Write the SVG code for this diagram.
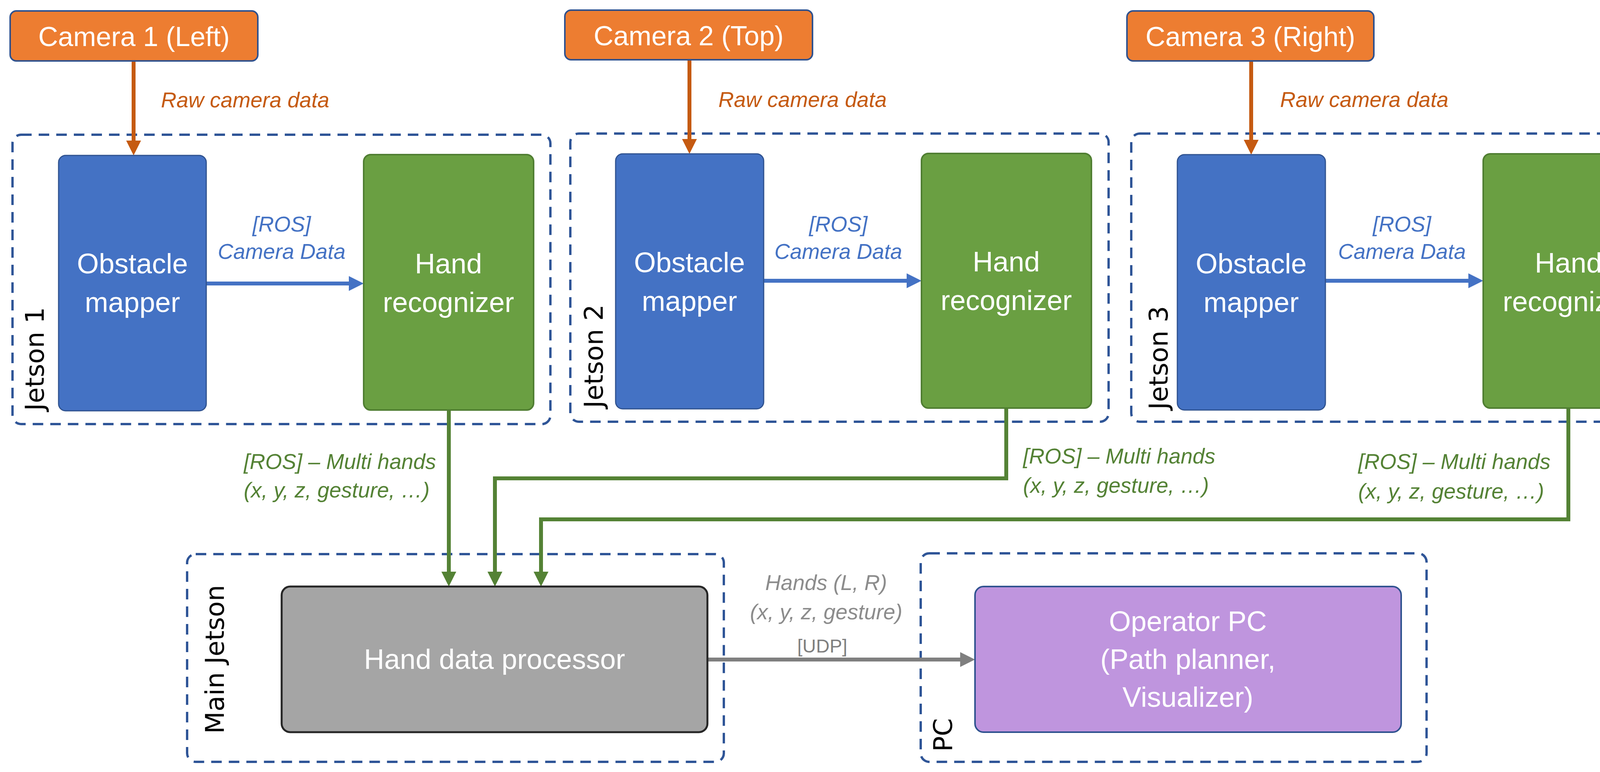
<svg xmlns="http://www.w3.org/2000/svg" width="4299" height="1977" viewBox="0 0 4299 1977">
<defs>
<style>
.grp{fill:none;stroke:#2F5597;stroke-width:6;stroke-dasharray:27 18}
.cam{fill:#ED7D31;stroke:#2F528F;stroke-width:4}
.obs{fill:#4472C4;stroke:#2F528F;stroke-width:3}
.hand{fill:#6A9F42;stroke:#507E32;stroke-width:4}
.proc{fill:#A5A5A5;stroke:#262626;stroke-width:5}
.op{fill:#BF95DE;stroke:#2F528F;stroke-width:4}
.nt{font-family:"Liberation Sans",Arial,sans-serif;font-size:72px;fill:#FFFFFF;text-anchor:middle}
.ct{font-family:"Liberation Sans",Arial,sans-serif;font-size:70px;fill:#FFFFFF;text-anchor:middle}
.gl{font-family:"DejaVu Sans",Verdana,sans-serif;font-size:66px;fill:#000000}
.lbl{font-family:"Liberation Sans",Arial,sans-serif;font-size:55px;font-style:italic}
.or{fill:#C55A11}
.bl{fill:#4472C4;text-anchor:middle}
.gr{fill:#548235}
.gy{fill:#8C8C8C;text-anchor:middle}
.udp{font-family:"Liberation Sans",Arial,sans-serif;font-size:48px;fill:#7F7F7F;text-anchor:middle}
.c-or{fill:none;stroke:#C55A11;stroke-width:10}
.c-bl{fill:none;stroke:#4472C4;stroke-width:10}
.c-gr{fill:none;stroke:#548235;stroke-width:10;stroke-linejoin:miter}
.c-gy{fill:none;stroke:#7F7F7F;stroke-width:10}
</style>
<marker id="aOr" viewBox="0 0 38 38" refX="22" refY="19" markerWidth="38" markerHeight="38" markerUnits="userSpaceOnUse" orient="auto"><path d="M0,0 L38,19 L0,38 z" fill="#C55A11"/></marker>
<marker id="aBl" viewBox="0 0 38 38" refX="22" refY="19" markerWidth="38" markerHeight="38" markerUnits="userSpaceOnUse" orient="auto"><path d="M0,0 L38,19 L0,38 z" fill="#4472C4"/></marker>
<marker id="aGr" viewBox="0 0 38 38" refX="22" refY="19" markerWidth="38" markerHeight="38" markerUnits="userSpaceOnUse" orient="auto"><path d="M0,0 L38,19 L0,38 z" fill="#548235"/></marker>
<marker id="aGy" viewBox="0 0 38 38" refX="22" refY="19" markerWidth="38" markerHeight="38" markerUnits="userSpaceOnUse" orient="auto"><path d="M0,0 L38,19 L0,38 z" fill="#7F7F7F"/></marker>
</defs>
<rect x="0" y="0" width="4299" height="1977" fill="#FFFFFF"/>

<g id="groups">
<g id="jetson1"><rect class="grp" x="32" y="345" width="1377" height="741" rx="22"/><text class="gl" transform="translate(112,1052) rotate(-90)">Jetson 1</text></g>
<g id="jetson2"><rect class="grp" x="1460" y="342" width="1378" height="738" rx="22"/><text class="gl" transform="translate(1543,1045) rotate(-90)">Jetson 2</text></g>
<g id="jetson3"><rect class="grp" x="2896" y="342" width="1382" height="738" rx="22"/><text class="gl" transform="translate(2989,1049) rotate(-90)">Jetson 3</text></g>
<g id="mainjetson"><rect class="grp" x="479" y="1419" width="1374" height="532" rx="22"/><text class="gl" transform="translate(573,1879) rotate(-90)">Main Jetson</text></g>
<g id="pc"><rect class="grp" x="2357" y="1417" width="1295" height="534" rx="22"/><text class="gl" transform="translate(2437,1925) rotate(-90)">PC</text></g>
</g>

<g id="connectors">
<path class="c-or" d="M342,156 V382" marker-end="url(#aOr)"/>
<path class="c-or" d="M1765,153 V378" marker-end="url(#aOr)"/>
<path class="c-or" d="M3203,156 V380" marker-end="url(#aOr)"/>
<path class="c-bl" d="M528,726 H915" marker-end="url(#aBl)"/>
<path class="c-bl" d="M1955,719 H2343" marker-end="url(#aBl)"/>
<path class="c-bl" d="M3393,719 H3781" marker-end="url(#aBl)"/>
<path class="c-gr" d="M1149,1050 V1486" marker-end="url(#aGr)"/>
<path class="c-gr" d="M2576,1045 V1225 H1267 V1486" marker-end="url(#aGr)"/>
<path class="c-gr" d="M4015,1045 V1330 H1385 V1486" marker-end="url(#aGr)"/>
<path class="c-gy" d="M1811,1689 H2480" marker-end="url(#aGy)"/>
<g id="connector-labels">
<text class="lbl or" x="412" y="275">Raw camera data</text>
<text class="lbl or" x="1839" y="274">Raw camera data</text>
<text class="lbl or" x="3277" y="274">Raw camera data</text>
<text class="lbl bl" x="721" y="593">[ROS]</text>
<text class="lbl bl" x="721" y="663">Camera Data</text>
<text class="lbl bl" x="2146" y="593">[ROS]</text>
<text class="lbl bl" x="2146" y="663">Camera Data</text>
<text class="lbl bl" x="3589" y="593">[ROS]</text>
<text class="lbl bl" x="3589" y="663">Camera Data</text>
<text class="lbl gr" x="624" y="1201">[ROS] – Multi hands</text>
<text class="lbl gr" x="624" y="1274">(x, y, z, gesture, …)</text>
<text class="lbl gr" x="2619" y="1187">[ROS] – Multi hands</text>
<text class="lbl gr" x="2619" y="1262">(x, y, z, gesture, …)</text>
<text class="lbl gr" x="3477" y="1201">[ROS] – Multi hands</text>
<text class="lbl gr" x="3477" y="1277">(x, y, z, gesture, …)</text>
<text class="lbl gy" x="2115" y="1511">Hands (L, R)</text>
<text class="lbl gy" x="2115" y="1586">(x, y, z, gesture)</text>
<text class="udp" x="2105" y="1671">[UDP]</text>
</g>
</g>

<g id="camera1"><rect class="cam" x="26" y="28" width="634" height="128" rx="16"/><text class="ct" x="343" y="118">Camera 1 (Left)</text></g>
<g id="camera2"><rect class="cam" x="1446" y="26" width="634" height="127" rx="16"/><text class="ct" x="1763" y="116">Camera 2 (Top)</text></g>
<g id="camera3"><rect class="cam" x="2885" y="28" width="632" height="128" rx="16"/><text class="ct" x="3201" y="118">Camera 3 (Right)</text></g>

<g id="obstacle1"><rect class="obs" x="150" y="398" width="378" height="654" rx="18"/><text class="nt" x="339" y="700">Obstacle</text><text class="nt" x="339" y="799">mapper</text></g>
<g id="obstacle2"><rect class="obs" x="1576" y="394" width="379" height="653" rx="18"/><text class="nt" x="1765" y="697">Obstacle</text><text class="nt" x="1765" y="796">mapper</text></g>
<g id="obstacle3"><rect class="obs" x="3014" y="396" width="379" height="654" rx="18"/><text class="nt" x="3203" y="700">Obstacle</text><text class="nt" x="3203" y="799">mapper</text></g>

<g id="hand1"><rect class="hand" x="931" y="396" width="435" height="654" rx="18"/><text class="nt" x="1148" y="700">Hand</text><text class="nt" x="1148" y="799">recognizer</text></g>
<g id="hand2"><rect class="hand" x="2359" y="393" width="435" height="652" rx="18"/><text class="nt" x="2576" y="695">Hand</text><text class="nt" x="2576" y="794">recognizer</text></g>
<g id="hand3"><rect class="hand" x="3797" y="394" width="436" height="651" rx="18"/><text class="nt" x="4015" y="698">Hand</text><text class="nt" x="4015" y="797">recognizer</text></g>

<g id="processor"><rect class="proc" x="721" y="1502" width="1090" height="373" rx="22"/><text class="nt" x="1266" y="1713" fill="#F2F2F2">Hand data processor</text></g>
<g id="operator"><rect class="op" x="2496" y="1502" width="1091" height="373" rx="22"/><text class="nt" x="3041" y="1616">Operator PC</text><text class="nt" x="3041" y="1713">(Path planner,</text><text class="nt" x="3041" y="1810">Visualizer)</text></g>
</svg>
